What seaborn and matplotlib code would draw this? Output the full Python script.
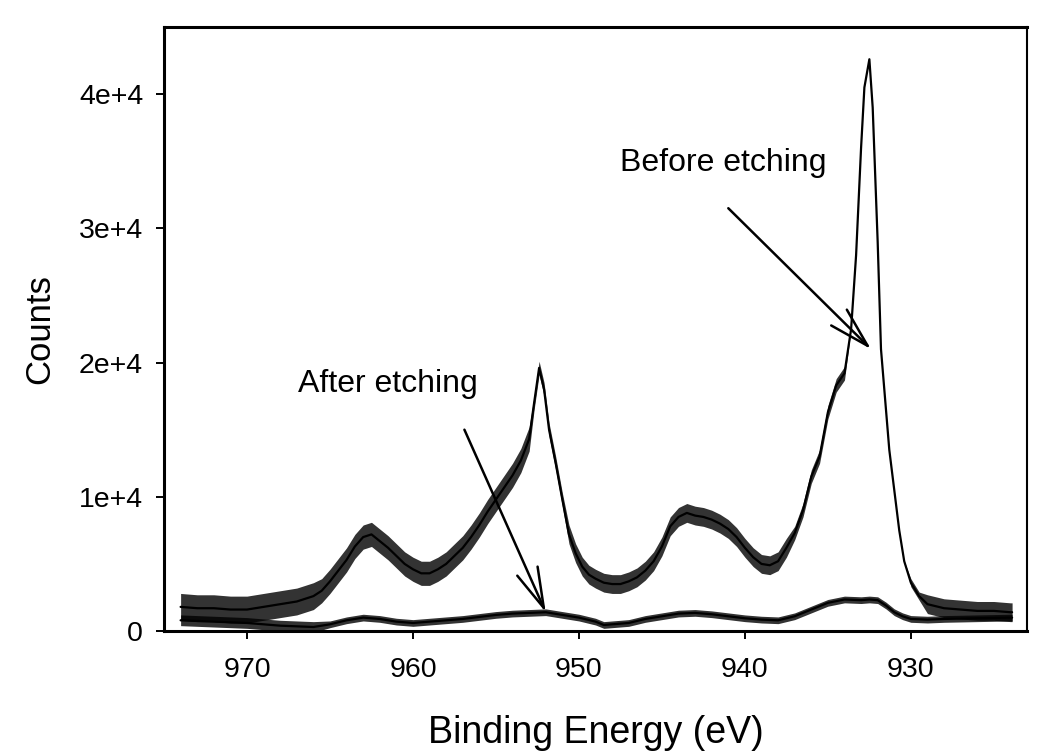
import numpy as np
import pandas as pd
import seaborn as sns
import matplotlib
matplotlib.use('Agg')
import matplotlib.pyplot as plt

# values
before_ev = [974.0, 973, 972, 971, 970, 969, 968, 967, 966, 965.5, 965, 964.5, 964, 963.5, 963,
             962.5, 962, 961.5, 961, 960.5, 960, 959.5, 959, 958.5, 958, 957.5, 957, 956.5, 956,
             955.5, 955, 954.5, 954, 953.5, 953, 952.7, 952.4, 952.1, 951.8, 951.4, 951, 950.6,
             950.2, 949.8, 949.4, 949, 948.5, 948, 947.5, 947, 946.5, 946, 945.5, 945, 944.5,
             944, 943.5, 943, 942.5, 942, 941.5, 941, 940.5, 940, 939.5, 939, 938.5, 938, 937.5,
             937, 936.5, 936, 935.5, 935, 934.5, 934, 933.6, 933.3, 933.0, 932.8, 932.5, 932.3,
             932.0, 931.8, 931.6, 931.3, 931.0, 930.7, 930.4, 930.0, 929.5, 929, 928, 927, 926,
             925, 924, 923.9]
before_counts = [1800, 1700, 1700, 1600, 1600, 1800, 2000, 2200, 2600, 3000, 3700, 4500, 5300,
                 6300, 7000, 7200, 6700, 6200, 5600, 5000, 4600, 4300, 4300, 4600, 5000, 5600,
                 6200, 7000, 7900, 8900, 9800, 10700, 11600, 12700, 14300, 17000, 19600, 18000,
                 15000, 12500, 9800, 7200, 5800, 4800, 4200, 3900, 3600, 3500, 3500, 3700, 4000,
                 4500, 5200, 6300, 7800, 8500, 8800, 8600, 8500, 8300, 8000, 7600, 7000, 6200,
                 5500, 5000, 4900, 5200, 6200, 7300, 9000, 11500, 13000, 16300, 18300, 19200,
                 22500, 28000, 36000, 40500, 42600, 39000, 29000, 21000, 18000, 13500, 10500,
                 7500, 5200, 3600, 2600, 2000, 1700, 1600, 1500, 1500, 1400, 1400]
# half-width of the noisy band
before_noise = [1000] * 9 + [900] * 26 + [500] * 6 + [700] * 28 + [500] * 7 + [0] * 13 + [300] * 2 + [700] * 7

after_ev = [974, 972, 970, 968, 966, 965, 964, 963, 962, 961, 960, 959, 958, 957, 956, 955, 954,
            953, 952, 951, 950, 949, 948.5, 948, 947, 946, 945, 944, 943, 942, 941, 940, 939,
            938, 937, 936, 935, 934, 933, 932.5, 932, 931.5, 931, 930.5, 930, 929, 928, 926,
            924, 923.9]
after_counts = [800, 700, 600, 400, 300, 500, 800, 1000, 900, 700, 600, 700, 800, 900, 1050,
                1200, 1300, 1350, 1400, 1200, 1000, 700, 450, 500, 600, 900, 1100, 1300, 1350,
                1250, 1100, 950, 850, 800, 1100, 1600, 2100, 2350, 2300, 2350, 2300, 1900, 1400,
                1100, 900, 850, 900, 950, 1000, 1000]
after_noise = [400] * 5 + [250] * 45

x_ticks = [970, 960, 950, 940, 930]
y_ticks = [0, 10000, 20000, 30000, 40000]
y_tick_labels = ['0', '1e+4', '2e+4', '3e+4', '4e+4']

sns.set_style('ticks')
plt.rcParams['font.family'] = ['Liberation Sans', 'DejaVu Sans']
plt.rcParams['text.color'] = 'black'
plt.rcParams['axes.labelcolor'] = 'black'
plt.rcParams['xtick.color'] = 'black'
plt.rcParams['ytick.color'] = 'black'

fig = plt.figure(figsize=(10.48, 7.55), dpi=100)
ax = fig.add_axes([0.1565, 0.1642, 0.8235, 0.8000])

df_b = pd.DataFrame({'ev': before_ev, 'counts': before_counts, 'noise': before_noise})
df_a = pd.DataFrame({'ev': after_ev, 'counts': after_counts, 'noise': after_noise})

for df in [df_b, df_a]:
    ax.fill_between(df['ev'], df['counts'] - df['noise'], df['counts'] + df['noise'],
                    color='black', alpha=0.8, linewidth=0)
sns.lineplot(data=df_b, x='ev', y='counts', color='black', lw=1.6, ax=ax, sort=False)
sns.lineplot(data=df_a, x='ev', y='counts', color='black', lw=1.6, ax=ax, sort=False)

ax.set_xlim(975, 923)
ax.set_ylim(0, 45000)
ax.set_xticks(x_ticks)
ax.set_xticklabels([str(t) for t in x_ticks])
ax.set_yticks(y_ticks)
ax.set_yticklabels(y_tick_labels)
ax.tick_params(axis='both', direction='out', length=6, width=1.4, labelsize=20.5,
               color='black', labelcolor='black')
ax.tick_params(axis='x', pad=13)
ax.tick_params(axis='y', pad=9)
for s in ['left', 'bottom', 'top']:
    ax.spines[s].set_linewidth(2.2)
ax.spines['right'].set_linewidth(1.5)
for s in ax.spines.values():
    s.set_color('black')

ax.set_xlabel('Binding Energy (eV)', fontsize=27, labelpad=23, color='black')
ax.set_ylabel('Counts', fontsize=25, labelpad=16, color='black')

# annotations
ax.text(947.5, 34900, 'Before etching', fontsize=23, ha='left', va='center', color='black')
ax.text(966.9, 18400, 'After etching', fontsize=23, ha='left', va='center', color='black')
arrow = dict(arrowstyle='->,head_length=2.9,head_width=0.8', color='black', lw=1.8,
             mutation_scale=10, shrinkA=0, shrinkB=0)
ax.annotate('', xy=(932.4, 21000), xytext=(941.0, 31500), arrowprops=arrow)
ax.annotate('', xy=(952.0, 1400), xytext=(956.9, 15000), arrowprops=arrow)

fig.savefig('out.png', dpi=100)
